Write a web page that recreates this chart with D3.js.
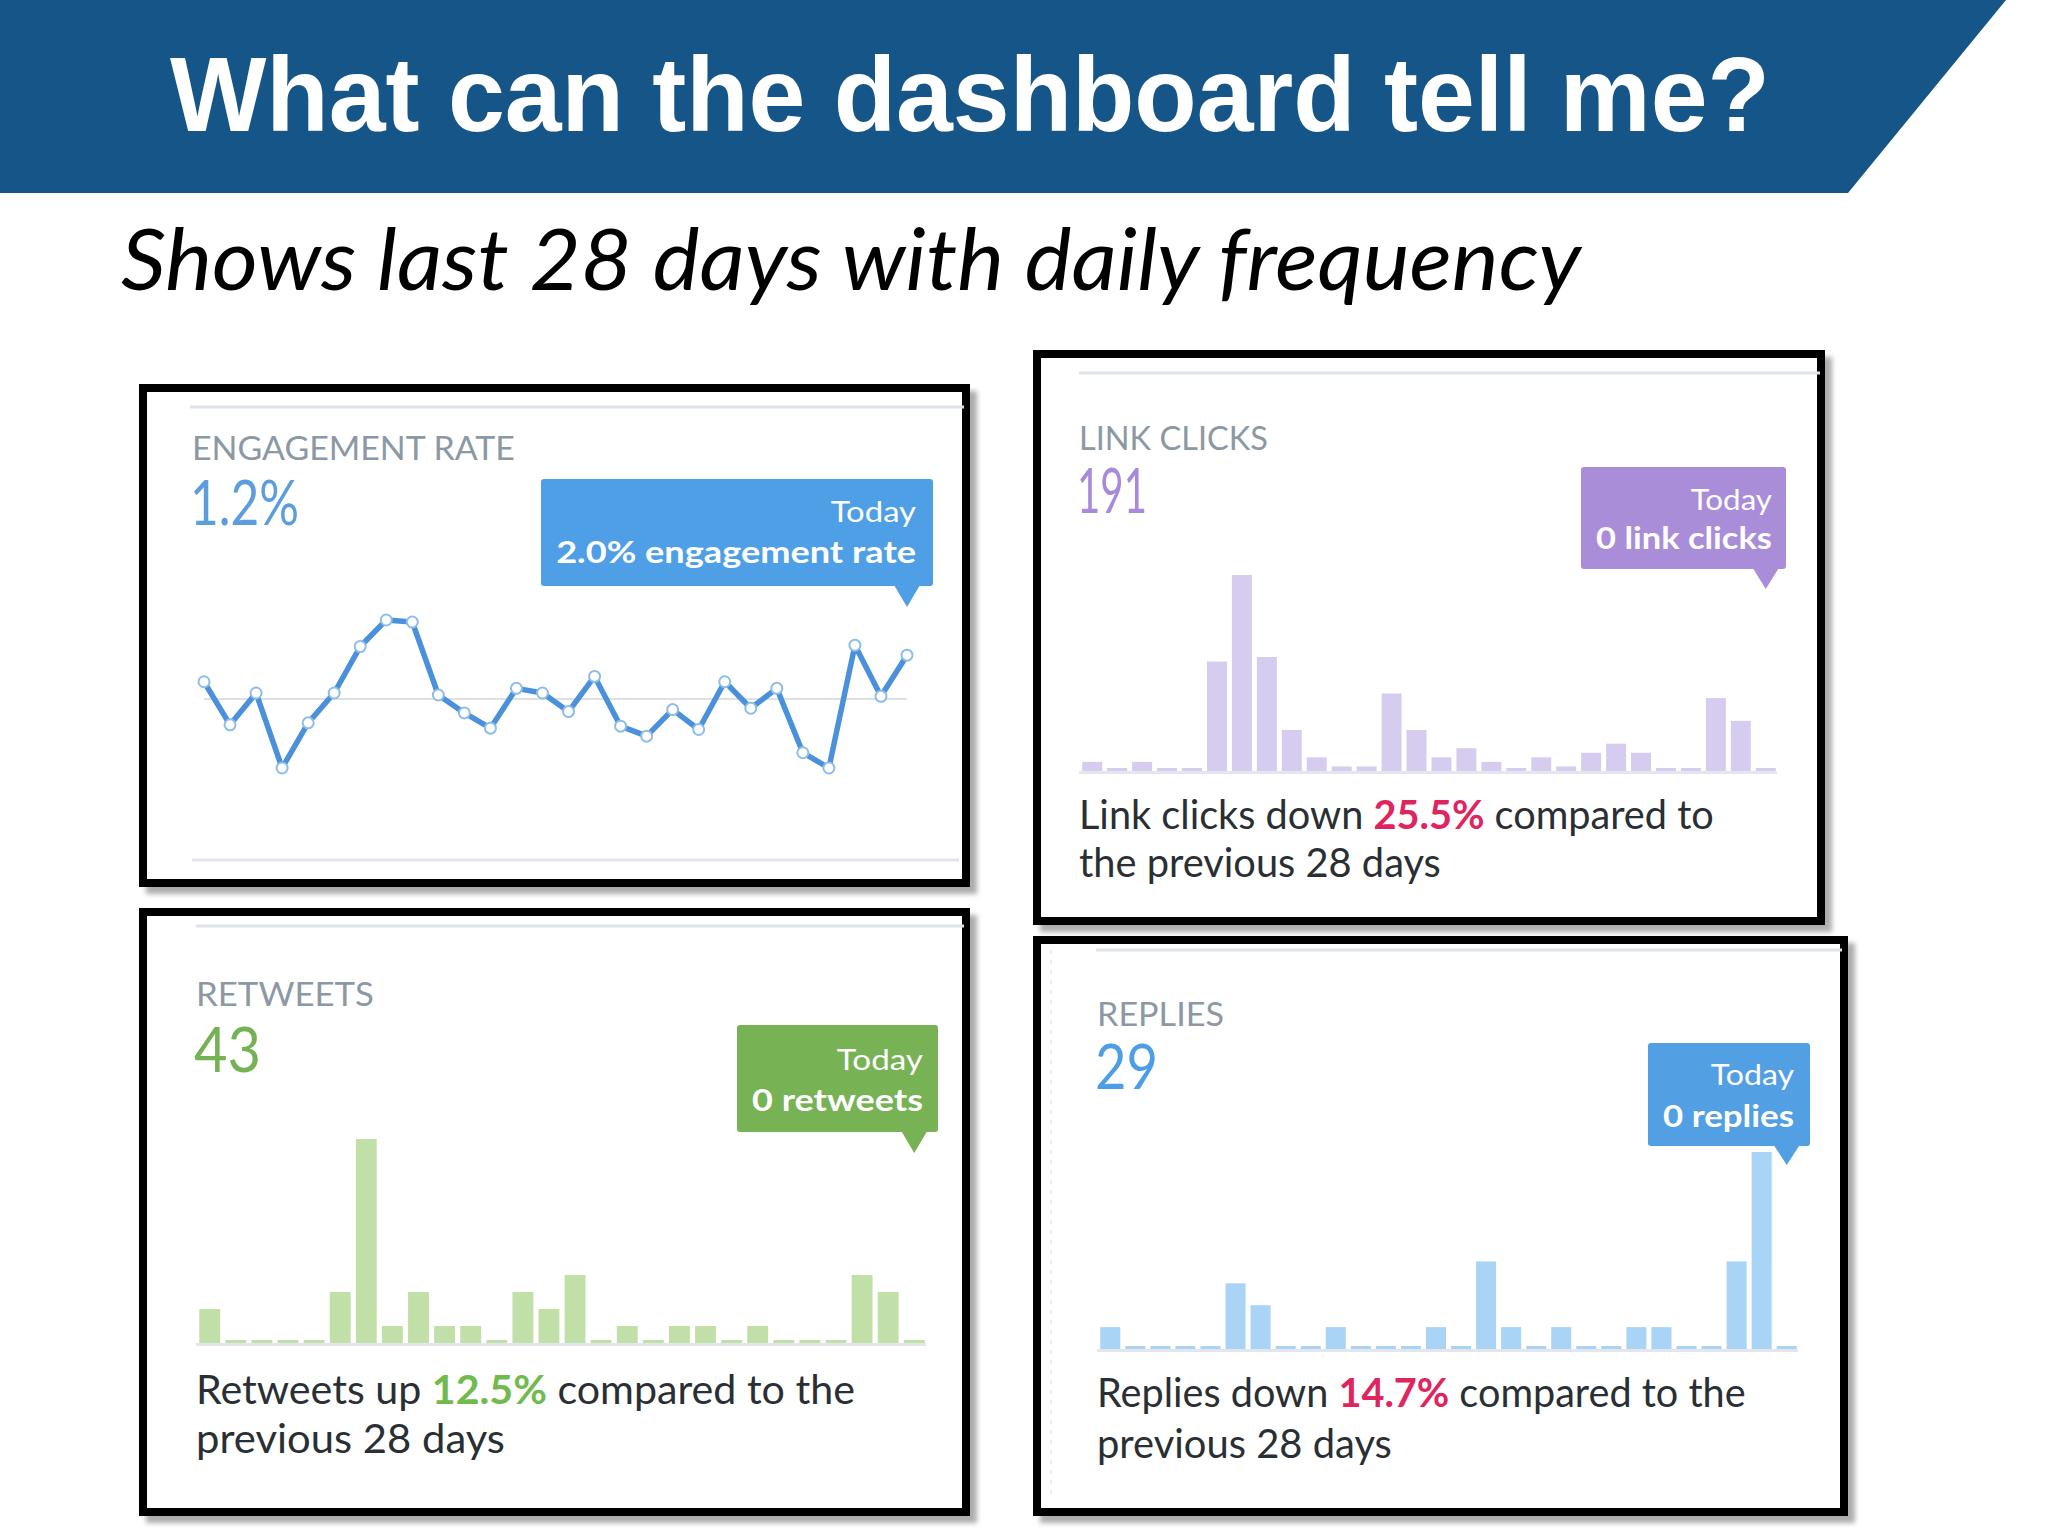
<!DOCTYPE html>
<html>
<head>
<meta charset="utf-8">
<script src="https://cdn.jsdelivr.net/npm/d3@7"></script>
<style>
  html, body { margin: 0; padding: 0; background: #fff; }
  svg { display: block; }
</style>
</head>
<body>
<svg id="chart" width="2048" height="1536"></svg>
<script>
// last 28 days, one value per day
let days = d3.range(1, 29);

let engagementRate = [1.60, 0.95, 1.43, 0.30, 0.98, 1.43, 2.13, 2.53, 2.50, 1.40, 1.13, 0.90, 1.50, 1.43,
                      1.15, 1.68, 0.93, 0.78, 1.18, 0.88, 1.60, 1.20, 1.50, 0.53, 0.30, 2.15, 1.38, 2.00];
let linkClicks = [2, 0, 2, 0, 0, 24, 43, 25, 9, 3, 1, 1, 17, 9, 3, 5, 2, 0, 3, 1, 4, 6, 4, 0, 0, 16, 11, 0];
let retweets   = [2, 0, 0, 0, 0, 3, 12, 1, 3, 1, 1, 0, 3, 2, 4, 0, 1, 0, 1, 1, 0, 1, 0, 0, 0, 4, 3, 0];
let replies    = [1, 0, 0, 0, 0, 3, 2, 0, 0, 1, 0, 0, 0, 1, 0, 4, 1, 0, 1, 0, 0, 1, 1, 0, 0, 4, 9, 0];

let metricTitles = ['ENGAGEMENT RATE', 'LINK CLICKS', 'RETWEETS', 'REPLIES'];
let metricTotals = ['1.2%', '191', '43', '29'];
let todayValues  = ['2.0% engagement rate', '0 link clicks', '0 retweets', '0 replies'];
let changeLead   = ['', 'Link clicks down ', 'Retweets up ', 'Replies down '];
let changePct    = ['', '25.5%', '12.5%', '14.7%'];
let changeTail   = ['', ' compared to', ' compared to the', ' compared to the'];
let changeLine2  = ['', 'the previous 28 days', 'previous 28 days', 'previous 28 days'];

let pageTitle = 'What can the dashboard tell me?';
let pageSubtitle = 'Shows last 28 days with daily frequency';

// layout of the four screenshot panels (pixel positions only)
let panels = [
  { frame: [139, 384, 970, 887], sep: [190, 964, 407], sepBottom: [192, 959, 860],
    head: [192, 460, 323, 525, 109], tip: [541, 479, 933, 586, 607], tipText: [916, 522, 86, 563, 360],
    plot: [204, 907, 768, 620], color: '#4A90DA', tipColor: '#4E9FE6', totalColor: '#5C9EDD' },
  { frame: [1033, 350, 1825, 925], sep: [1079, 1820, 373],
    head: [1079, 450, 189, 513, 70], tip: [1581, 467, 1786, 569, 589], tipText: [1772, 510, 82, 549, 176],
    plot: [1081, 1777, 771, 575], color: '#D6CCEF', tipColor: '#A98DD8', totalColor: '#A78BDA',
    text: [1079, 829, 635, 877, 362], pctColor: '#E0245E' },
  { frame: [139, 908, 970, 1516], sep: [196, 964, 926],
    head: [196, 1006, 178, 1072, 67], tip: [737, 1025, 938, 1132, 1153], tipText: [923, 1070, 87, 1111, 171],
    plot: [198, 926, 1343, 1139], color: '#C1E0A8', tipColor: '#77B255', totalColor: '#74B254',
    text: [196, 1404, 659, 1453, 309], pctColor: '#72BA4E' },
  { frame: [1033, 936, 1848, 1516], sep: [1096, 1842, 950],
    head: [1097, 1026, 127, 1089, 63], tip: [1648, 1043, 1810, 1146, 1165], tipText: [1794, 1085, 84, 1127, 131],
    plot: [1099, 1798, 1349, 1152], color: '#AAD4F6', tipColor: '#52A0E3', totalColor: '#4D9EE6',
    text: [1097, 1407, 649, 1458, 295], pctColor: '#E0245E' }
];

let svg = d3.select('#chart');
let uiFont = 'Lato, "Open Sans", sans-serif';

let defs = svg.append('defs');
defs.append('filter')
    .attr('id', 'shadow')
    .attr('x', '-5%').attr('y', '-5%')
    .attr('width', '115%').attr('height', '115%')
  .append('feDropShadow')
    .attr('dx', 7).attr('dy', 7)
    .attr('stdDeviation', 2.5)
    .attr('flood-color', '#6b6b6b')
    .attr('flood-opacity', 0.55);

// squeeze / stretch a text horizontally so it spans the wanted width
let fitText = function (text, x, y, targetWidth) {
  let natural = text.node().getBBox().width;
  let k = targetWidth / natural;
  text.attr('transform', 'translate(' + x + ',' + y + ') scale(' + k + ',1)');
};

// ---- slide header ----
svg.append('path')
  .attr('d', 'M0,0 L2006,0 L1848,193 L0,193 Z')
  .attr('fill', '#155588');

let titleText = svg.append('text')
  .attr('font-family', '"Liberation Sans", Arial, sans-serif')
  .attr('font-weight', 'bold')
  .attr('font-size', 106)
  .attr('fill', '#fff')
  .text(pageTitle);
fitText(titleText, 170, 131, 1600);

let subText = svg.append('text')
  .attr('font-family', uiFont)
  .attr('font-style', 'italic')
  .attr('font-size', 86)
  .attr('fill', '#000')
  .text(pageSubtitle);
fitText(subText, 121, 290, 1462);

// ---- panel pieces ----
let drawFrame = function (p) {
  let f = p.frame, sw = 8;
  svg.append('rect')
    .attr('x', f[0] + sw / 2).attr('y', f[1] + sw / 2)
    .attr('width', f[2] - f[0] - sw).attr('height', f[3] - f[1] - sw)
    .attr('fill', '#fff')
    .attr('stroke', '#000')
    .attr('stroke-width', sw)
    .attr('filter', 'url(#shadow)');

  let g = svg.append('g');
  g.append('line')
    .attr('x1', p.sep[0]).attr('x2', p.sep[1])
    .attr('y1', p.sep[2]).attr('y2', p.sep[2])
    .attr('stroke', '#DDE3E8').attr('stroke-width', 3);
  if (p.sepBottom) {
    g.append('line')
      .attr('x1', p.sepBottom[0]).attr('x2', p.sepBottom[1])
      .attr('y1', p.sepBottom[2]).attr('y2', p.sepBottom[2])
      .attr('stroke', '#E1E4EA').attr('stroke-width', 3);
  }
};

let drawHeading = function (p, i) {
  let h = p.head;
  let t1 = svg.append('text')
    .attr('font-family', uiFont)
    .attr('font-size', 32)
    .attr('fill', '#8C98A3')
    .text(metricTitles[i]);
  fitText(t1, h[0], h[1], h[2]);

  let t2 = svg.append('text')
    .attr('font-family', uiFont)
    .attr('font-weight', 400)
    .attr('font-size', 61)
    .attr('fill', p.totalColor)
    .text(metricTotals[i]);
  fitText(t2, h[0] - 2, h[3], h[4]);
};

let drawTooltip = function (p, i, tipX) {
  let b = p.tip, t = p.tipText;
  let g = svg.append('g');
  g.append('rect')
    .attr('x', b[0]).attr('y', b[1])
    .attr('width', b[2] - b[0]).attr('height', b[3] - b[1])
    .attr('rx', 3)
    .attr('fill', p.tipColor);
  g.append('path')
    .attr('d', 'M' + (tipX - 13) + ',' + (b[3] - 1) + ' L' + (tipX + 13) + ',' + (b[3] - 1) +
               ' L' + tipX + ',' + b[4] + ' Z')
    .attr('fill', p.tipColor);

  let l1 = g.append('text')
    .attr('font-family', uiFont)
    .attr('font-size', 28)
    .attr('text-anchor', 'end')
    .attr('fill', '#fff')
    .text('Today');
  fitText(l1, t[0], t[1], t[2]);

  let l2 = g.append('text')
    .attr('font-family', uiFont)
    .attr('font-weight', 'bold')
    .attr('font-size', 30)
    .attr('text-anchor', 'end')
    .attr('fill', '#fff')
    .text(todayValues[i]);
  fitText(l2, t[0], t[3], t[4]);
};

let drawSentence = function (p, i) {
  let s = p.text;
  let line1 = svg.append('text')
    .attr('font-family', uiFont)
    .attr('font-size', 40)
    .attr('fill', '#292F33');
  line1.append('tspan').text(changeLead[i]);
  line1.append('tspan')
    .attr('font-weight', 'bold')
    .attr('fill', p.pctColor)
    .text(changePct[i]);
  line1.append('tspan').text(changeTail[i]);
  fitText(line1, s[0], s[1], s[2]);

  let line2 = svg.append('text')
    .attr('font-family', uiFont)
    .attr('font-size', 40)
    .attr('fill', '#292F33')
    .text(changeLine2[i]);
  fitText(line2, s[0], s[3], s[4]);
};

let drawBars = function (p, values) {
  let pl = p.plot;
  let x = d3.scaleBand()
    .domain(days)
    .range([pl[0], pl[1]])
    .paddingInner(0.2)
    .paddingOuter(0.05);
  let y = d3.scaleLinear()
    .domain([0, d3.max(values)])
    .range([pl[2], pl[3]]);

  let g = svg.append('g');
  g.append('line')
    .attr('x1', pl[0] - 2).attr('x2', pl[1])
    .attr('y1', pl[2] + 1.5).attr('y2', pl[2] + 1.5)
    .attr('stroke', '#E3E6EC').attr('stroke-width', 3);

  g.selectAll('.bar')
    .data(days)
    .enter()
    .append('rect')
    .attr('class', 'bar')
    .attr('x', function (d) { return x(d); })
    .attr('width', x.bandwidth())
    .attr('y', function (d, k) { return Math.min(y(values[k]), pl[2] - 3); })
    .attr('height', function (d, k) { return Math.max(pl[2] - y(values[k]), 3); })
    .attr('fill', p.color);

  let last = days[days.length - 1];
  return x(last) + x.bandwidth() / 2;
};

let drawLine = function (p, values) {
  let pl = p.plot;
  let x = d3.scalePoint()
    .domain(days)
    .range([pl[0], pl[1]]);
  let y = d3.scaleLinear()
    .domain(d3.extent(values))
    .range([pl[2], pl[3]]);

  let g = svg.append('g');
  let avg = y(d3.mean(values));
  g.append('line')
    .attr('x1', pl[0]).attr('x2', pl[1])
    .attr('y1', avg).attr('y2', avg)
    .attr('stroke', '#D3D6DA').attr('stroke-width', 1.5);

  let line = d3.line()
    .x(function (d) { return x(d); })
    .y(function (d, k) { return y(values[k]); });

  g.append('path')
    .datum(days)
    .attr('d', line)
    .attr('fill', 'none')
    .attr('stroke', p.color)
    .attr('stroke-width', 5.5)
    .attr('stroke-linejoin', 'round');

  g.selectAll('.dot')
    .data(days)
    .enter()
    .append('circle')
    .attr('class', 'dot')
    .attr('cx', function (d) { return x(d); })
    .attr('cy', function (d, k) { return y(values[k]); })
    .attr('r', 5.5)
    .attr('fill', '#fff')
    .attr('stroke', '#8EBDEA')
    .attr('stroke-width', 2);

  return x(days[days.length - 1]);
};

// ---- build panels ----
let series = [engagementRate, linkClicks, retweets, replies];

panels.forEach(function (p, i) {
  drawFrame(p);
});

// faint dotted guide at the left edge of the replies screenshot
svg.append('line')
  .attr('x1', 1051).attr('x2', 1051)
  .attr('y1', 950).attr('y2', 1500)
  .attr('stroke', '#EEEEEE')
  .attr('stroke-width', 2)
  .attr('stroke-dasharray', '4,6');

panels.forEach(function (p, i) {
  drawHeading(p, i);
  let tipX = (i === 0) ? drawLine(p, series[i]) : drawBars(p, series[i]);
  drawTooltip(p, i, tipX);
  if (i > 0) drawSentence(p, i);
});
</script>
</body>
</html>
